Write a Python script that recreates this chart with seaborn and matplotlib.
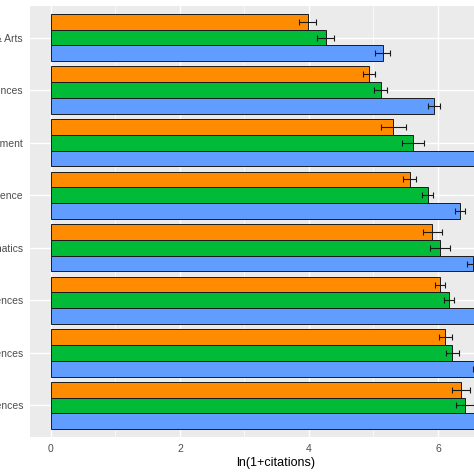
import matplotlib
matplotlib.use("Agg")
import matplotlib.pyplot as plt
import seaborn as sns
import pandas as pd
import numpy as np

fields = ["Humanities & Arts", "Social Sciences", "Business & Management",
          "Computer Science", "Mathematics", "Life Sciences",
          "Physical Sciences", "Health Sciences"]
groups = ["A", "B", "C"]
vals_a = [3.98, 4.93, 5.31, 5.56, 5.91, 6.03, 6.11, 6.36]
vals_b = [4.26, 5.11, 5.61, 5.84, 6.03, 6.17, 6.22, 6.42]
vals_c = [5.14, 5.94, 6.90, 6.34, 6.55, 6.80, 6.65, 6.90]
err_a = [0.13, 0.10, 0.19, 0.10, 0.15, 0.08, 0.10, 0.14]
err_b = [0.13, 0.10, 0.17, 0.09, 0.15, 0.08, 0.10, 0.14]
err_c = [0.11, 0.09, 0.12, 0.08, 0.10, 0.09, 0.10, 0.12]
colors = ["#FF8C00", "#00BA38", "#619CFF"]

rows = []
for g, v, e in zip(groups, [vals_a, vals_b, vals_c], [err_a, err_b, err_c]):
    for f, vv, ee in zip(fields, v, e):
        rows.append({"field": f, "group": g, "value": vv, "err": ee})
df = pd.DataFrame(rows)

sns.set_style("darkgrid", {"axes.facecolor": "#EBEBEB", "grid.color": "white",
                           "axes.edgecolor": "#EBEBEB"})
plt.rcParams["font.family"] = ["Liberation Sans", "DejaVu Sans"]

fig = plt.figure(figsize=(4.74, 4.74), dpi=100)
W = 474.0
x0px, ppu = 51.0, 64.5
xmin, xmax = -21.0 / ppu, 7.3
left = 30 / W
right_px = x0px + xmax * ppu
ax = fig.add_axes([left, 37 / W, (right_px - 30) / W, 431 / W])

sns.barplot(data=df, y="field", x="value", hue="group", hue_order=groups,
            order=fields, palette=colors, orient="h", errorbar=None,
            width=0.9, edgecolor="#1a1a1a", linewidth=0.7, legend=False,
            saturation=1, ax=ax)

# error bars from the bar patches
for cont, g in zip(ax.containers, groups):
    sub = df[df["group"] == g].set_index("field").loc[fields]
    ys = [p.get_y() + p.get_height() / 2 for p in cont.patches]
    ax.errorbar(sub["value"].values, ys, xerr=sub["err"].values, fmt="none",
                ecolor="#1a1a1a", elinewidth=0.8, capsize=2, capthick=0.8)

ax.set_xlim(xmin, xmax)
ax.set_ylim(len(fields) - 0.4, -0.6)
ax.set_xticks([0, 2, 4, 6])
ax.set_xticks([1, 3, 5, 7], minor=True)
ax.grid(True, which="major", color="white", linewidth=1.0)
ax.grid(True, which="minor", axis="x", color="white", linewidth=0.5)
ax.set_axisbelow(True)
for s in ax.spines.values():
    s.set_visible(False)
ax.tick_params(axis="both", which="major", length=3, width=0.8, color="#333333",
               labelsize=7.5, labelcolor="#4D4D4D", pad=2)
ax.tick_params(which="minor", length=0)
ax.set_ylabel("")
ax.set_xlabel("ln(1+citations)", fontsize=9, color="black", labelpad=2)

fig.savefig("out.png", dpi=100)
